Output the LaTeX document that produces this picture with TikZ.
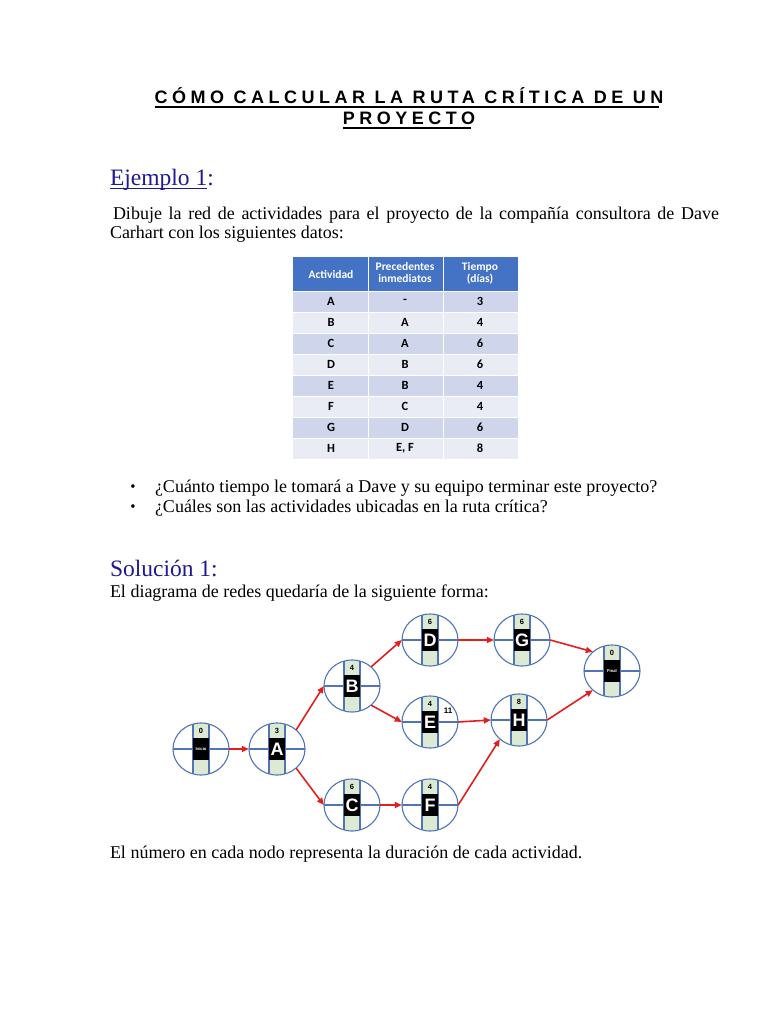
\documentclass[tikz,border=0pt]{standalone}
\usepackage{fontspec}
\setmainfont{Liberation Serif}
\newfontfamily\titlefont{LiberationSans-Bold}[Extension=.ttf,LetterSpace=25]
\newfontfamily\calfont{Carlito-Bold}[Extension=.ttf]
\newfontfamily\arialfont{LiberationSans-Bold}[Extension=.ttf]
\usetikzlibrary{shapes.geometric,arrows.meta,calc}
\definecolor{navy}{HTML}{1F1A8F}
\definecolor{hdr}{HTML}{4472C4}
\definecolor{rowA}{HTML}{CFD5EA}
\definecolor{rowB}{HTML}{E9EBF5}
\definecolor{pblue}{HTML}{4F74B8}
\definecolor{pgreen}{HTML}{DCEAD4}
\definecolor{pred}{HTML}{E41E1E}
\tikzset{
  txt/.style={anchor=base west, inner sep=0, outer sep=0},
  body/.style={txt, font=\fontsize{18}{21}\selectfont},
  head/.style={txt, font=\fontsize{23.5}{27}\selectfont, text=navy},
  pe/.style={ellipse, minimum width=56pt, minimum height=52pt, inner sep=0, fill=white},
  peo/.style={ellipse, minimum width=56pt, minimum height=52pt, inner sep=0, draw=pblue, line width=1.1pt},
  arr/.style={draw=pred, line width=1.6pt, -{Triangle[length=7pt,width=6pt]}},
  pnum/.style={font=\arialfont\fontsize{7.5}{8}\selectfont, inner sep=0},
  pletter/.style={font=\arialfont\fontsize{18}{18}\selectfont, text=white, inner sep=0},
  ptiny/.style={font=\arialfont\fontsize{4.2}{5}\selectfont, text=white, inner sep=0},
  thead/.style={font=\calfont\fontsize{11.5}{12}\selectfont, text=white, align=center, inner sep=0},
  tcell/.style={font=\calfont\fontsize{12.5}{13}\selectfont, inner sep=0},
}
\newcommand\pertnode[5]{%
  \node[pe] (#1) at (#2) {};
  \begin{scope}
    \clip (#1.center) ellipse [x radius=28pt, y radius=26pt];
    \fill[pgreen] ($(#1.center)+(-8,-30)$) rectangle ($(#1.center)+(8,30)$);
    \draw[pblue, line width=1.1pt] ($(#1.center)+(-8,-30)$) -- ($(#1.center)+(-8,30)$)
      ($(#1.center)+(8,-30)$) -- ($(#1.center)+(8,30)$)
      ($(#1.center)+(-30,0)$) -- ($(#1.center)+(30,0)$);
  \end{scope}
  \fill[black] ($(#1.center)+(-8,-11)$) rectangle ($(#1.center)+(8,11)$);
  \node[pnum] (#1n) at ($(#1.center)+(0,-18)$) {#3};
  \node[#5] (#1l) at (#1.center) {#4};
  \node[peo] (#1o) at (#1.center) {};
}
\begin{document}
\begin{tikzpicture}[x=1pt,y=-1pt]
\useasboundingbox[fill=white] (0,0) rectangle (768,1024);
% title
\node[txt, anchor=base, font=\titlefont\fontsize{18}{21}\selectfont] (t1) at (409,104) {CÓMO CALCULAR LA RUTA CRÍTICA DE UN};
\node[txt, anchor=base, font=\titlefont\fontsize{18}{21}\selectfont] (t2) at (409,125) {PROYECTO};
\draw[line width=1.3pt] ($(t1.base west)+(0,3)$) -- ($(t1.base east)+(-4,3)$);
\draw[line width=1.3pt] ($(t2.base west)+(0,3)$) -- ($(t2.base east)+(-4,3)$);
% Ejemplo
\node[head] (ej) at (110,186) {Ejemplo 1};
\node[head] (ejc) at (ej.base east) {:};
\draw[navy, line width=0.9pt] ($(ej.base west)+(0,2.5)$) -- ($(ej.base east)+(0,2.5)$);
\node[body] (p1) at (113,220) {\makebox[606pt][s]{Dibuje la red de actividades para el proyecto de la compañía consultora de Dave}};
\node[body] (p2) at (110,238) {Carhart con los siguientes datos:};
% table
\fill[hdr] (293,257) rectangle (518,291);
\foreach \a/\p/\t [count=\k] in {A/-/3,B/A/4,C/A/6,D/B/6,E/B/4,F/C/4,G/D/6,H/{E, F}/8}{
  \pgfmathsetmacro\ytop{291+21*(\k-1)}
  \pgfmathsetmacro\yc{301.5+21*(\k-1)}
  \ifodd\k \fill[rowA] (293,\ytop) rectangle (518,\ytop+21); \else \fill[rowB] (293,\ytop) rectangle (518,\ytop+21); \fi
  \node[tcell] (ta\k) at (331,\yc) {\a};
  \node[tcell] (tp\k) at (405,\yc) {\p};
  \node[tcell] (tt\k) at (480,\yc) {\t};
}
\draw[white, line width=0.8pt] (368,257) -- (368,459) (443,257) -- (443,459);
\foreach \k in {0,...,7}{ \draw[white, line width=0.8pt] (293,291+21*\k) -- (518,291+21*\k); }
\node[thead] (h1) at (331,274) {Actividad};
\node[thead] (h2) at (405,273) {Precedentes\\inmediatos};
\node[thead] (h3) at (480,273) {Tiempo\\(días)};
% bullets
\node[inner sep=0, font=\fontsize{15}{16}\selectfont] (bu1) at (133,488) {•};
\node[body] (q1) at (155,492) {¿Cuánto tiempo le tomará a Dave y su equipo terminar este proyecto?};
\node[inner sep=0, font=\fontsize{15}{16}\selectfont] (bu2) at (133,508) {•};
\node[body] (q2) at (155,512) {¿Cuáles son las actividades ubicadas en la ruta crítica?};
% solucion
\node[head] (sol) at (110,576) {Solución 1:};
\node[body] (s1) at (110,597) {El diagrama de redes quedaría de la siguiente forma:};
% network
\pertnode{ini}{201,749}{0}{Inicio}{ptiny}
\pertnode{A}{277,749}{3}{A}{pletter}
\pertnode{B}{352,686}{4}{B}{pletter}
\pertnode{C}{352,805}{6}{C}{pletter}
\pertnode{D}{430,640}{6}{D}{pletter}
\pertnode{E}{430,722}{4}{E}{pletter}
\pertnode{F}{430,805}{4}{F}{pletter}
\pertnode{G}{522,640}{6}{G}{pletter}
\pertnode{H}{519,720}{8}{H}{pletter}
\pertnode{fin}{612,671}{0}{Final}{ptiny}
\node[pnum, font=\arialfont\fontsize{8}{9}\selectfont] (e11) at (448,711) {11};
\draw[arr] (ini.east) -- (A.west);
\draw[arr] (A.45) -- (B.west);
\draw[arr] (A.-45) -- (C.west);
\draw[arr] (B.45) -- (D.west);
\draw[arr] (B.-45) -- (E.west);
\draw[arr] (C.east) -- (F.west);
\draw[arr] (D.east) -- (G.west);
\draw[arr] (E.east) -- (H.west);
\draw[arr] (F.east) -- (H.-135);
\draw[arr] (G.east) -- (fin.135);
\draw[arr] (H.east) -- (fin.-135);
\node[body] (end) at (110,858) {El número en cada nodo representa la duración de cada actividad.};
\end{tikzpicture}
\end{document}
